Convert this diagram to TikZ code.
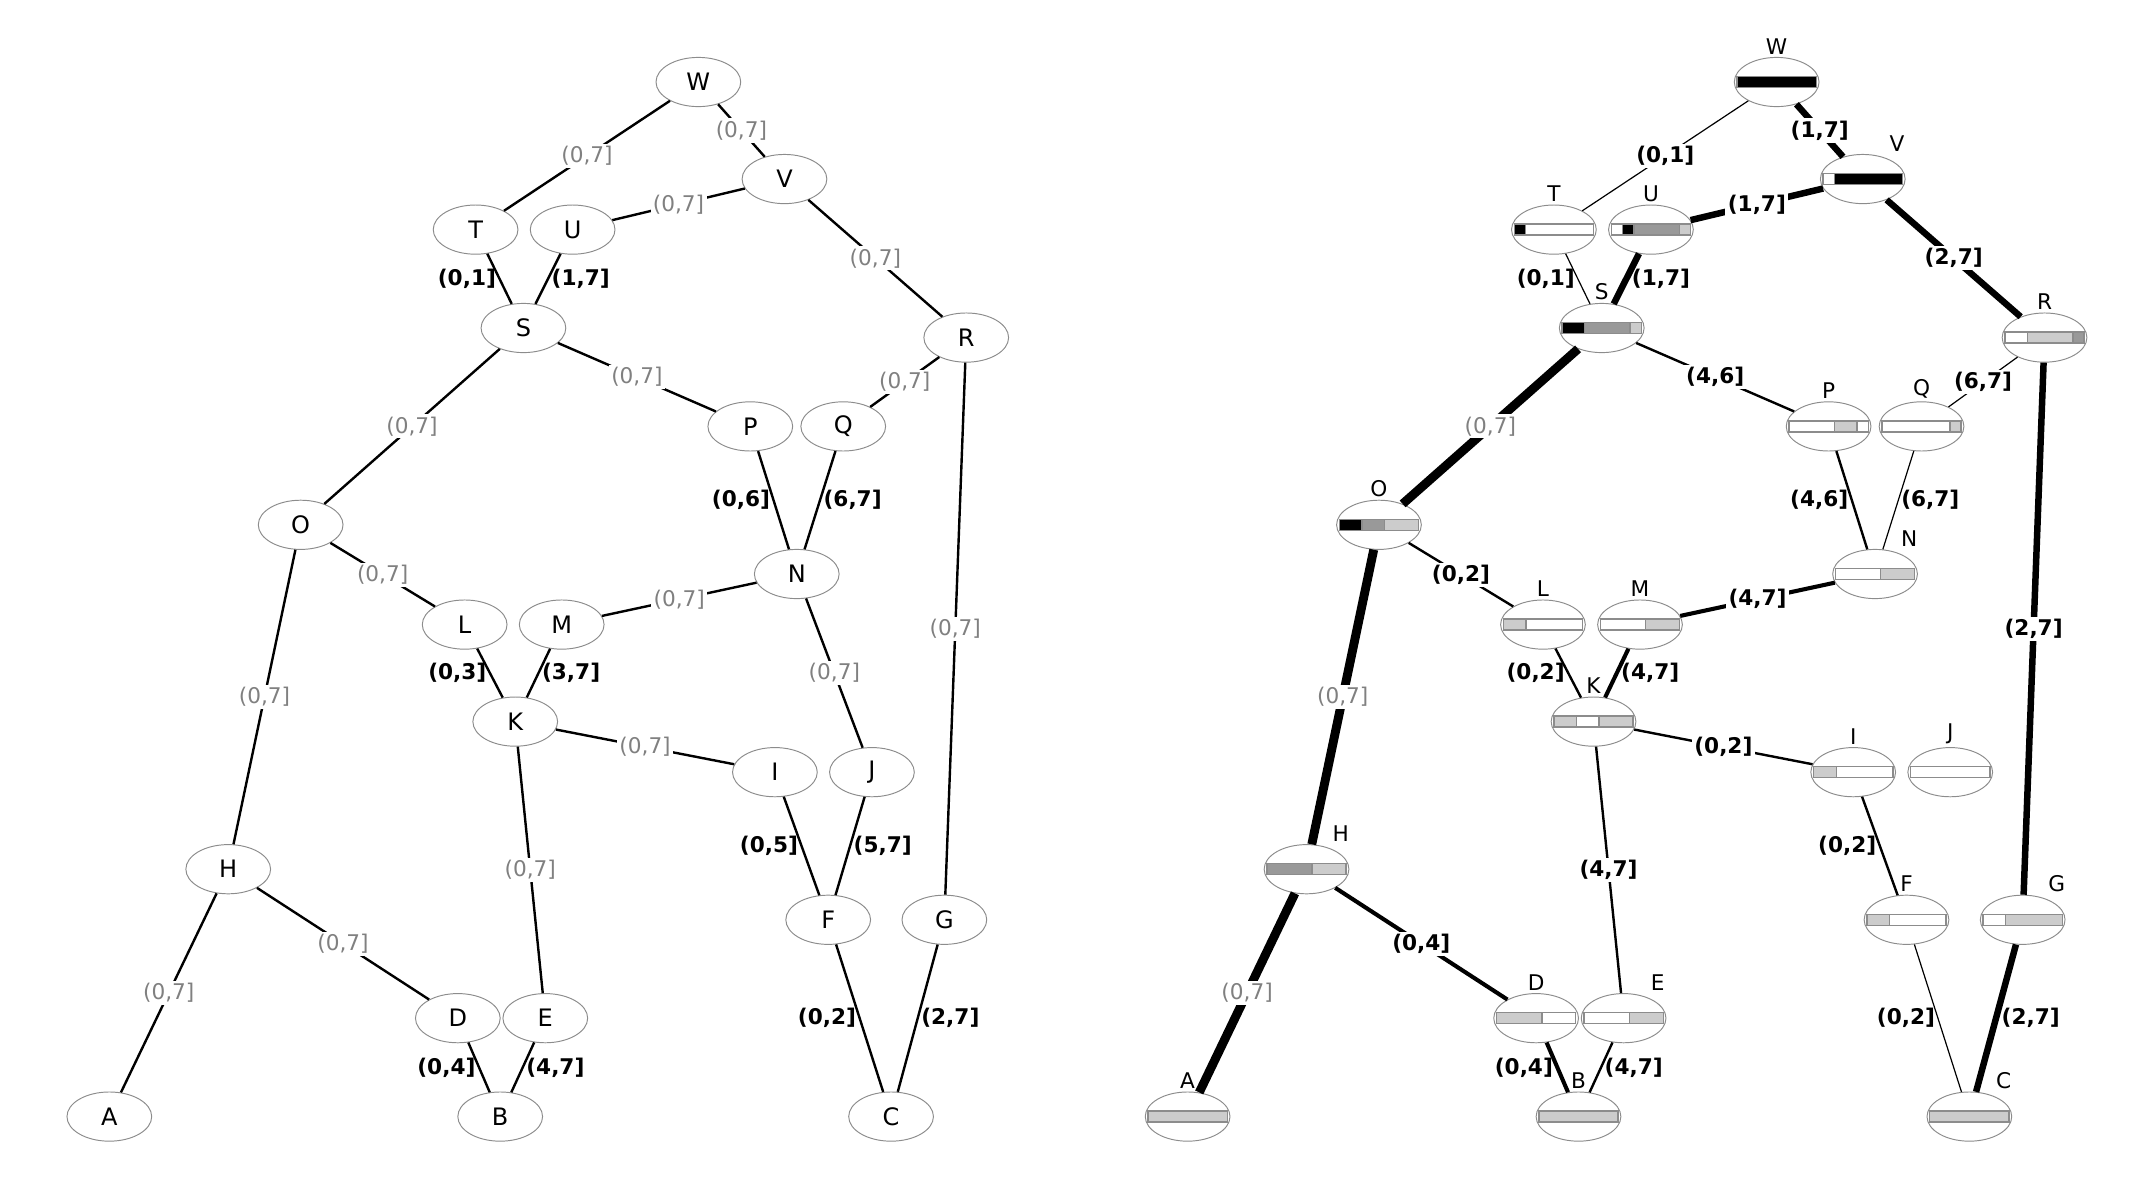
\documentclass[tikz,border=0pt]{standalone}
\usepackage{fontspec}
\setmainfont{DejaVu Sans}
\usetikzlibrary{shapes.geometric,calc}

\begin{document}
\begin{tikzpicture}[x=0.2mm,y=-0.2mm]
    \tikzset{
      vnode/.style={ellipse,draw=black!45,fill=white,minimum width=12.4mm,minimum height=7.2mm,inner sep=0pt,font=\fontsize{10}{12}\selectfont},
      vlab/.style={font=\fontsize{9}{10}\selectfont,inner sep=1pt},
      onl/.style={midway,fill=white,inner sep=1pt,font=\fontsize{9}{10}\selectfont},
      gl/.style={onl,text=black!50},
      bl/.style={midway,inner sep=1pt,font=\bfseries\fontsize{9}{10}\selectfont},
      e0/.style={line width=0.5pt},
      e1/.style={line width=1pt},
      e2/.style={line width=1.7pt},
      e3/.style={line width=2.7pt},
      e4/.style={line width=3.7pt},
      dk/.style={black!40}, lt/.style={black!20}
    }
    \newcommand\ivbar[2]{%
      \foreach \a/\b/\c in {#2}{\fill[\c] ($(#1)+(-29+8.2857*\a,-4)$) rectangle ($(#1)+(-29+8.2857*\b,4)$);}
      \foreach \a/\b/\c in {#2}{\draw[black!45,line width=0.6pt] ($(#1)+(-29+8.2857*\a,-4)$) rectangle ($(#1)+(-29+8.2857*\b,4)$);}}
    \useasboundingbox (0,0) rectangle (1560,871);
    % nodes of both graphs
    \foreach \n/\x/\y/\s in {W/511/60/0,V/574/131/25,T/348/168/0,U/419/168/0,S/383/240/0,R/707/247/0,
      P/549/312/0,Q/617/312/0,O/220/384/0,N/583/420/25,L/340/457/0,M/411/457/0,K/377/528/0,
      I/567/565/0,J/638/565/0,H/167/636/25,F/606/673/0,G/691/673/25,D/335/745/0,E/399/745/25,
      A/80/817/0,B/366/817/0,C/652/817/25}{
      \node[vnode] (l\n) at (\x,\y) {\n};
      \node[vnode,label={[vlab,xshift=\s*0.2mm]above:\n}] (r\n) at (\x+789,\y) {};
    }
    % bars
    \ivbar{rW}{0/7/black}
    \ivbar{rV}{0/1/white,1/7/black}
    \ivbar{rT}{0/1/black,1/7/white}
    \ivbar{rU}{0/1/white,1/2/black,2/6/dk,6/7/lt}
    \ivbar{rS}{0/2/black,2/6/dk,6/7/lt}
    \ivbar{rR}{0/2/white,2/6/lt,6/7/dk}
    \ivbar{rP}{0/4/white,4/6/lt,6/7/white}
    \ivbar{rQ}{0/6/white,6/7/lt}
    \ivbar{rO}{0/2/black,2/4/dk,4/7/lt}
    \ivbar{rN}{0/4/white,4/7/lt}
    \ivbar{rL}{0/2/lt,2/7/white}
    \ivbar{rM}{0/4/white,4/7/lt}
    \ivbar{rK}{0/2/lt,2/4/white,4/7/lt}
    \ivbar{rI}{0/2/lt,2/7/white}
    \ivbar{rJ}{0/7/white}
    \ivbar{rH}{0/4/dk,4/7/lt}
    \ivbar{rF}{0/2/lt,2/7/white}
    \ivbar{rG}{0/2/white,2/7/lt}
    \ivbar{rD}{0/4/lt,4/7/white}
    \ivbar{rE}{0/4/white,4/7/lt}
    \ivbar{rA}{0/7/lt}
    \ivbar{rB}{0/7/lt}
    \ivbar{rC}{0/7/lt}

    % left graph
    \draw[e1] (lW) -- node[gl]{(0,7]} (lT);
    \draw[e1] (lW) -- node[gl]{(0,7]} (lV);
    \draw[e1] (lV) -- node[gl]{(0,7]} (lU);
    \draw[e1] (lV) -- node[gl]{(0,7]} (lR);
    \draw[e1] (lT) -- node[bl,left]{(0,1]} (lS);
    \draw[e1] (lU) -- node[bl,right]{(1,7]} (lS);
    \draw[e1] (lS) -- node[gl]{(0,7]} (lP);
    \draw[e1] (lS) -- node[gl]{(0,7]} (lO);
    \draw[e1] (lR) -- node[gl]{(0,7]} (lQ);
    \draw[e1] (lR) -- node[gl]{(0,7]} (lG);
    \draw[e1] (lP) -- node[bl,left]{(0,6]} (lN);
    \draw[e1] (lQ) -- node[bl,right]{(6,7]} (lN);
    \draw[e1] (lO) -- node[gl]{(0,7]} (lL);
    \draw[e1] (lO) -- node[gl]{(0,7]} (lH);
    \draw[e1] (lN) -- node[gl]{(0,7]} (lM);
    \draw[e1] (lN) -- node[gl]{(0,7]} (lJ);
    \draw[e1] (lL) -- node[bl,left]{(0,3]} (lK);
    \draw[e1] (lM) -- node[bl,right]{(3,7]} (lK);
    \draw[e1] (lK) -- node[gl]{(0,7]} (lI);
    \draw[e1] (lK) -- node[gl]{(0,7]} (lE);
    \draw[e1] (lI) -- node[bl,left]{(0,5]} (lF);
    \draw[e1] (lJ) -- node[bl,right]{(5,7]} (lF);
    \draw[e1] (lH) -- node[gl]{(0,7]} (lD);
    \draw[e1] (lH) -- node[gl]{(0,7]} (lA);
    \draw[e1] (lF) -- node[bl,left]{(0,2]} (lC);
    \draw[e1] (lG) -- node[bl,right]{(2,7]} (lC);
    \draw[e1] (lD) -- node[bl,left]{(0,4]} (lB);
    \draw[e1] (lE) -- node[bl,right]{(4,7]} (lB);

    % right graph
    \draw[e0] (rW) -- node[onl,font=\bfseries\fontsize{9}{10}\selectfont]{(0,1]} (rT);
    \draw[e3] (rW) -- node[onl,font=\bfseries\fontsize{9}{10}\selectfont]{(1,7]} (rV);
    \draw[e3] (rV) -- node[onl,font=\bfseries\fontsize{9}{10}\selectfont]{(1,7]} (rU);
    \draw[e3] (rV) -- node[onl,font=\bfseries\fontsize{9}{10}\selectfont]{(2,7]} (rR);
    \draw[e0] (rT) -- node[bl,left]{(0,1]} (rS);
    \draw[e3] (rU) -- node[bl,right]{(1,7]} (rS);
    \draw[e1] (rS) -- node[onl,font=\bfseries\fontsize{9}{10}\selectfont]{(4,6]} (rP);
    \draw[e4] (rS) -- node[gl]{(0,7]} (rO);
    \draw[e0] (rR) -- node[onl,font=\bfseries\fontsize{9}{10}\selectfont]{(6,7]} (rQ);
    \draw[e3] (rR) -- node[onl,font=\bfseries\fontsize{9}{10}\selectfont]{(2,7]} (rG);
    \draw[e1] (rP) -- node[bl,left]{(4,6]} (rN);
    \draw[e0] (rQ) -- node[bl,right]{(6,7]} (rN);
    \draw[e1] (rO) -- node[onl,font=\bfseries\fontsize{9}{10}\selectfont]{(0,2]} (rL);
    \draw[e4] (rO) -- node[gl]{(0,7]} (rH);
    \draw[e2] (rN) -- node[onl,font=\bfseries\fontsize{9}{10}\selectfont]{(4,7]} (rM);
    \draw[e1] (rL) -- node[bl,left]{(0,2]} (rK);
    \draw[e2] (rM) -- node[bl,right]{(4,7]} (rK);
    \draw[e1] (rK) -- node[onl,font=\bfseries\fontsize{9}{10}\selectfont]{(0,2]} (rI);
    \draw[e1] (rK) -- node[onl,font=\bfseries\fontsize{9}{10}\selectfont]{(4,7]} (rE);
    \draw[e1] (rI) -- node[bl,left]{(0,2]} (rF);
    \draw[e2] (rH) -- node[onl,font=\bfseries\fontsize{9}{10}\selectfont]{(0,4]} (rD);
    \draw[e4] (rH) -- node[gl]{(0,7]} (rA);
    \draw[e0] (rF) -- node[bl,left]{(0,2]} (rC);
    \draw[e3] (rG) -- node[bl,right]{(2,7]} (rC);
    \draw[e2] (rD) -- node[bl,left]{(0,4]} (rB);
    \draw[e1] (rE) -- node[bl,right]{(4,7]} (rB);
  \end{tikzpicture}
\end{document}
